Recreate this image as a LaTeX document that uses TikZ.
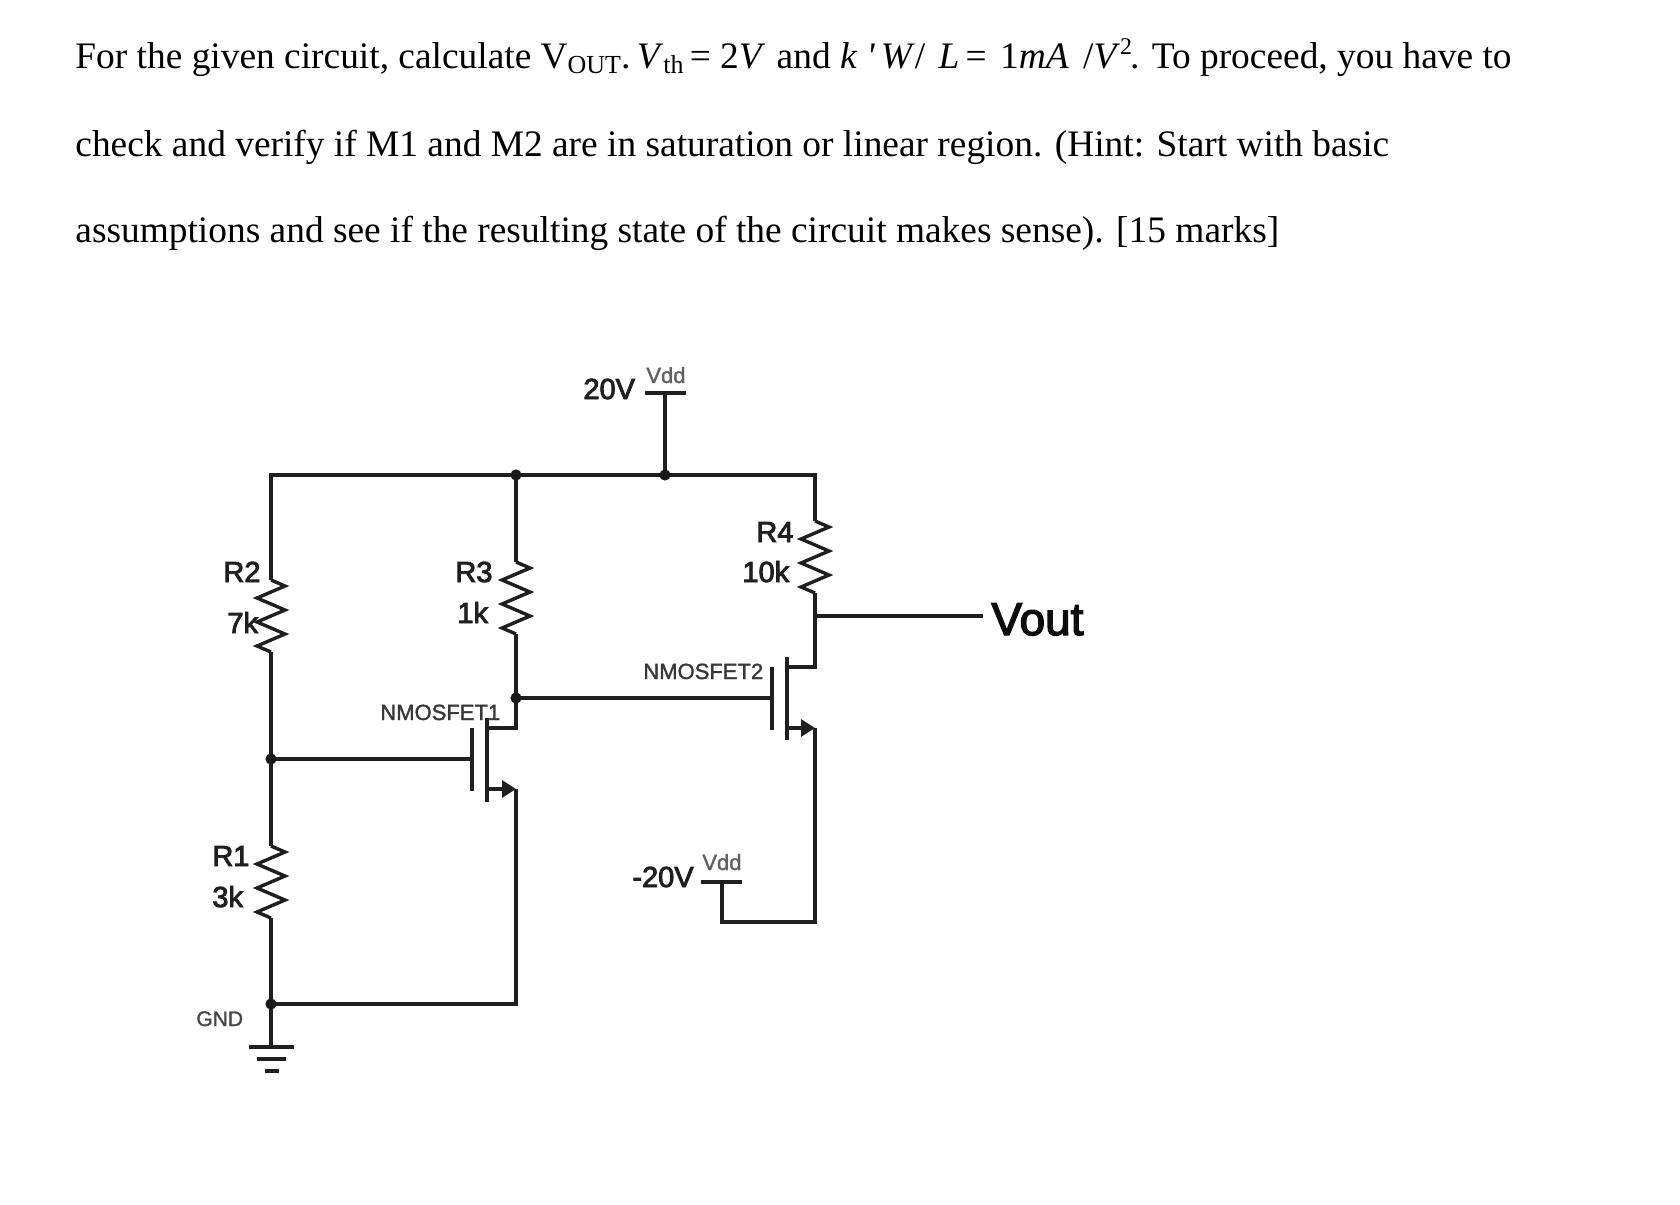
\documentclass[tikz,border=0pt]{standalone}
\usepackage{fontspec}
\setmainfont{Liberation Serif}
\newfontfamily\apfont{Liberation Serif}
\newfontfamily\labfont[FakeBold=3]{Liberation Sans}
\newfontfamily\thinlab[FakeBold=1.5]{Liberation Sans}
\usetikzlibrary{arrows.meta}
\newcommand{\pxfont}[1]{\fontsize{\dimexpr#1pt/2\relax}{\dimexpr#1pt*6/10\relax}\selectfont}
\newcommand{\zigpath}{-- ++(14,6) -- ++(-28,12) -- ++(28,12) -- ++(-28,12) -- ++(28,12) -- ++(-28,12) -- ++(14,6)}
\tikzset{
  x=0.5pt,y=-0.5pt,
  wire/.style={line width=1.7pt,color=black!88,line cap=butt,line join=miter},
  plate/.style={wire,line width=1.6pt},
  jdot/.style={circle,fill=black!90,draw=none,inner sep=0pt,minimum size=5.6pt},
  para/.style={anchor=base west,inner sep=0pt,font=\pxfont{37.4},text=black},
  lab/.style={anchor=base west,inner sep=0pt,font=\labfont\pxfont{29},text=black!88},
  smalllab/.style={anchor=base west,inner sep=0pt,font=\thinlab\pxfont{22},text=black!78},
  vddlab/.style={anchor=base west,inner sep=0pt,font=\thinlab\pxfont{22},text=black!62},
  gndlab/.style={anchor=base west,inner sep=0pt,font=\thinlab\pxfont{21},text=black!72},
  voutlab/.style={anchor=base west,inner sep=0pt,font=\labfont\pxfont{46},text=black!95},
}
\begin{document}
\begin{tikzpicture}
\useasboundingbox[fill=white] (0,0) rectangle (1680,1204);

% question text
\node[para] (l1) at (75,69) {For the given circuit, calculate V\raisebox{-2pt}{\pxfont{26}OUT}.\hspace{-3pt} \textit{V}\raisebox{-2pt}{\pxfont{26}th}\,= 2\textit{V} \hspace{1pt}and \textit{k} {\apfont\itshape '}\hspace{-1.5pt} \textit{W}/\hspace{2pt} \textit{L}\,= \hspace{2pt}1\textit{mA} \hspace{2.5pt}/\textit{V}\raisebox{7pt}{\pxfont{24}2}\hspace{-1pt}. To proceed, you have to};
\node[para] (l2) at (75,156) {check and verify if M1 and M2 are in saturation or linear region. (Hint: Start with basic};
\node[para] (l3) at (75,242) {assumptions and see if the resulting state of the circuit makes sense). [15 marks]};

% named points
\coordinate (railL) at (271,475);
\coordinate (railM) at (516,475);
\coordinate (railV) at (665,475);
\coordinate (railR) at (815,475);
\coordinate (vddA) at (665,393);
\coordinate (vddAl) at (645,393);
\coordinate (vddAr) at (686,393);
\coordinate (r2t) at (271,580);
\coordinate (r2b) at (271,652);
\coordinate (r3t) at (516,562);
\coordinate (r3b) at (516,634);
\coordinate (r4t) at (815,521);
\coordinate (r4b) at (815,593);
\coordinate (r1t) at (271,846);
\coordinate (r1b) at (271,918);
\coordinate (jg1) at (271,759);
\coordinate (jd1) at (516,698);
\coordinate (jgnd) at (271,1004);
\coordinate (gndtop) at (271,1047);
\coordinate (g1) at (472,759);
\coordinate (d1ch) at (487,728);
\coordinate (d1c) at (516,728);
\coordinate (s1ch) at (487,789);
\coordinate (s1c) at (516,789);
\coordinate (s1b) at (516,1004);
\coordinate (g2) at (772,698);
\coordinate (d2ch) at (787,667);
\coordinate (d2c) at (815,667);
\coordinate (s2ch) at (787,728);
\coordinate (s2c) at (815,728);
\coordinate (s2b) at (815,922);
\coordinate (vddB) at (722,882);
\coordinate (vddBl) at (701,882);
\coordinate (vddBr) at (742,882);
\coordinate (vddBb) at (722,922);
\coordinate (joutl) at (815,616);
\coordinate (jout) at (983,616);

% rails and wires
\draw[wire] (r2t) -- (railL) -- (railR) -- (r4t);
\draw[wire] (railM) -- (r3t);
\draw[wire] (vddA) -- (railV);
\draw[wire] (vddAl) -- (vddAr);
\draw[wire] (r2b) -- (r1t);
\draw[wire] (r1b) -- (gndtop);
\draw[wire] (r3b) -- (jd1) -- (d1c) -- (d1ch);
\draw[wire] (r4b) -- (d2c) -- (d2ch);
\draw[wire] (jg1) -- (g1);
\draw[wire] (jd1) -- (g2);
\draw[wire] (joutl) -- (jout);
\draw[wire] (jgnd) -- (s1b) -- (s1c);
\draw[wire] (vddBl) -- (vddBr);
\draw[wire] (vddB) -- (vddBb) -- (s2b) -- (s2c);

% resistors
\draw[wire] (r2t) \zigpath;
\draw[wire] (r3t) \zigpath;
\draw[wire] (r4t) \zigpath;
\draw[wire] (r1t) \zigpath;

% transistor 1
\draw[plate] (472,728) -- (472,791);
\draw[plate] (487,718) -- (487,802);
\draw[wire,-{Triangle[length=7pt,width=8.5pt]}] (s1ch) -- (s1c);
% transistor 2
\draw[plate] (772,667) -- (772,730);
\draw[plate] (787,657) -- (787,740);
\draw[wire,-{Triangle[length=7pt,width=8.5pt]}] (s2ch) -- (s2c);

% ground
\draw[wire] (249,1047) -- (294,1047);
\draw[wire] (257,1059) -- (286,1059);
\draw[wire] (265,1071) -- (279,1071);

% junctions
\node[jdot] (dA) at (railM) {};
\node[jdot] (dB) at (railV) {};
\node[jdot] (dC) at (jd1) {};
\node[jdot] (dD) at (jg1) {};
\node[jdot] (dE) at (jgnd) {};

% labels
\node[lab] (tR2) at (223,582) {R2};
\node[lab] (t7k) at (227,633) {7k};
\node[lab] (tR3) at (455,582) {R3};
\node[lab] (t1k) at (457,623) {1k};
\node[lab] (tR1) at (212,866) {R1};
\node[lab] (t3k) at (212,907) {3k};
\node[lab] (tR4) at (756,542) {R4};
\node[lab] (t10k) at (742,582) {10k};
\node[lab] (t20) at (583,399) {20V};
\node[lab] (tm20) at (632,887) {-20V};
\node[vddlab] (tV1) at (646,383) {Vdd};
\node[vddlab] (tV2) at (702,870) {Vdd};
\node[smalllab] (tN1) at (380,720) {NMOSFET1};
\node[smalllab] (tN2) at (643,679) {NMOSFET2};
\node[gndlab] (tG) at (196,1026) {GND};
\node[voutlab] (tVo) at (991,635) {Vout};
\end{tikzpicture}
\end{document}
